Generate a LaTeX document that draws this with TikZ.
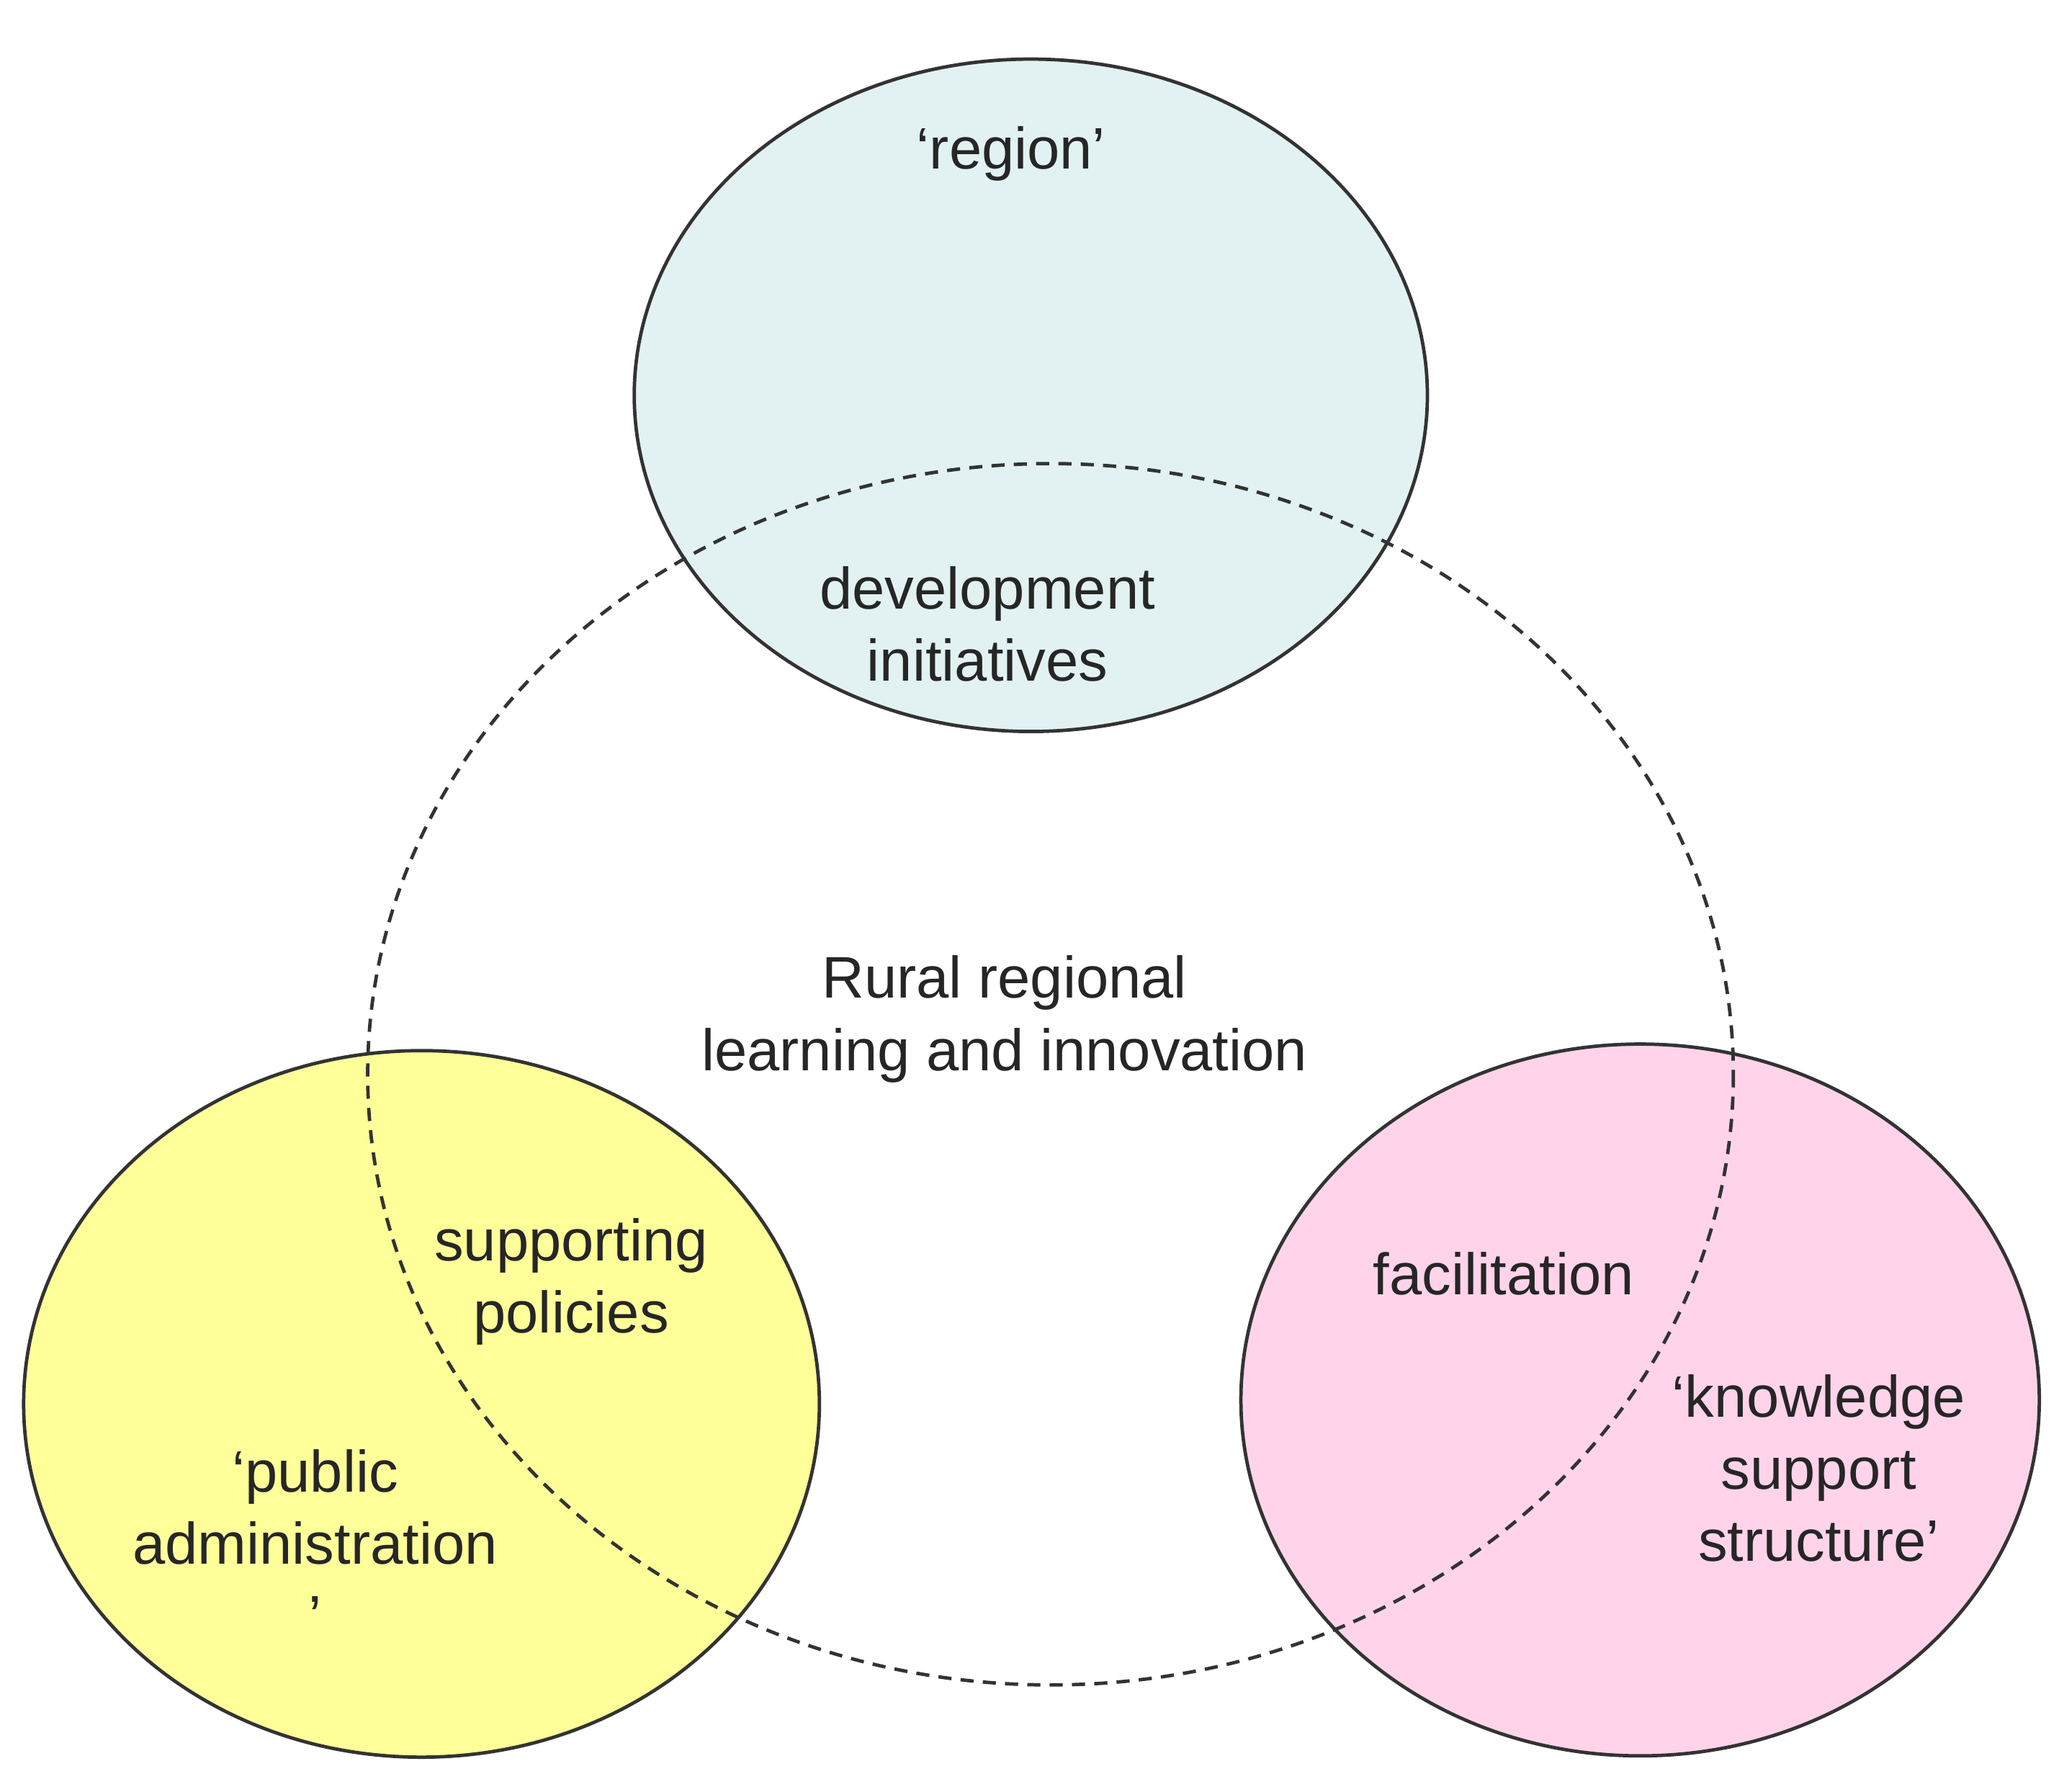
\documentclass[tikz,border=0pt]{standalone}
\usepackage{fontspec}
\setmainfont{Liberation Sans}
\definecolor{cblue}{HTML}{E2F2F2}
\definecolor{cyel}{HTML}{FFFF99}
\definecolor{cpink}{HTML}{FFD4EA}
\definecolor{edge}{HTML}{333333}
\begin{document}
\begin{tikzpicture}[x=0.5pt,y=-0.5pt,
  lbl/.style={align=center,font=\fontsize{22.3}{27.5}\selectfont,text=black!85},
  ring/.style={draw=edge,line width=1.3pt}]
\useasboundingbox[fill=white] (0,0) rectangle (1568,1364);
\fill[cblue] (785,301) ellipse [x radius=302,y radius=256];
\fill[cyel] (321,1069) ellipse [x radius=303,y radius=269];
\fill[cpink] (1249,1066) ellipse [x radius=304,y radius=271];
\draw[ring] (785,301) ellipse [x radius=302,y radius=256];
\draw[ring] (321,1069) ellipse [x radius=303,y radius=269];
\draw[ring] (1249,1066) ellipse [x radius=304,y radius=271];
\draw[edge,line width=1.3pt,dash pattern=on 5pt off 3.5pt] (800,818) ellipse [x radius=520,y radius=465];
\node[lbl] (region) at (770,117) {‘region’};
\node[lbl] (dev) at (752,475) {development\\initiatives};
\node[lbl] (rural) at (765,776) {Rural regional\\learning and innovation};
\node[lbl] (supp) at (435,976) {supporting\\policies};
\node[lbl] (pub) at (240,1175) {‘public\\administration\\’};
\node[lbl] (fac) at (1145,970) {facilitation};
\node[lbl] (know) at (1385,1118) {‘knowledge\\support\\structure’};
\end{tikzpicture}
\end{document}
